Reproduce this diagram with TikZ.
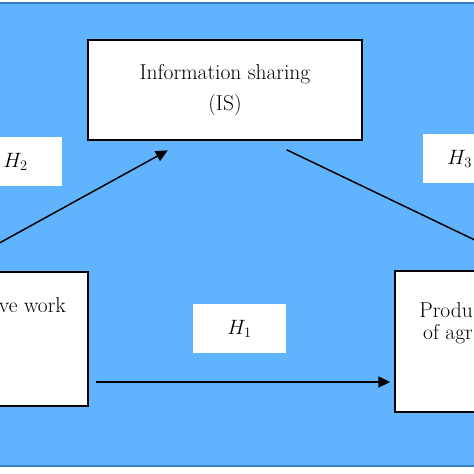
\documentclass[tikz,border=0pt]{standalone}
\usetikzlibrary{arrows.meta,positioning,calc}
\definecolor{bgblue}  {RGB}{96,180,254}
\definecolor{edgeblue}{RGB}{58,124,196}
\tikzset{
  box/.style={draw=black,fill=white,line width=1.4pt,inner sep=0pt,
              font=\fontsize{21.5}{31}\selectfont},
  hbox/.style={fill=white,minimum width=93pt,minimum height=49pt,
               inner sep=0pt,font=\fontsize{21.5}{24}\selectfont},
  txt/.style={inner sep=0pt,font=\fontsize{21.5}{24}\selectfont},
  arr/.style={-{Triangle[length=12pt,width=11pt]},line width=1.5pt},
}
\begin{document}
\begin{tikzpicture}[x=1pt,y=-1pt]
  \useasboundingbox (0,0) rectangle (474,474);
  % background
  \fill[white] (0,0) rectangle (474,474);
  \fill[bgblue] (0,3) rectangle (474,466);
  \draw[edgeblue,line width=1.5pt] (0,3) -- (474,3);
  \draw[edgeblue,line width=1.5pt] (0,466) -- (474,466);

  % variables
  \node[box,minimum width=274pt,minimum height=100pt,align=center] (IS) at (225,90)
    {Information sharing\\(IS)};
  \node[box,minimum width=280pt,minimum height=134pt] (coop) at (-52,339) {};
  \node[box,minimum width=286pt,minimum height=141pt] (prod) at (538,341.5) {};
  \node[txt,anchor=base east] (cooptxt) at (66,312) {ve work};
  \node[txt,anchor=base east] (prodtxt1) at (473,317) {Produ};
  \node[txt,anchor=base east] (prodtxt2) at (473,339) {of agr};

  % hypothesis labels
  \node[hbox] (H2) at (15.5,161.5) {$H_2$};
  \node[hbox] (H1) at (239.5,328.5) {$H_1$};
  \node[hbox] (H3) at (469.5,158.5) {};
  \node[txt,anchor=east] (H3txt) at (472,158.5) {$H_3$};

  % paths
  \draw[arr,shorten >=20pt] (coop.north) -- ([xshift=98pt]IS.south west);
  \draw[arr,shorten <=21pt] ([xshift=-95pt]IS.south east) -- (prod.north);
  \draw[arr] ([xshift=7pt,yshift=-43pt]coop.east) -- ([xshift=-4pt,yshift=-40.5pt]prod.west);
\end{tikzpicture}
\end{document}
